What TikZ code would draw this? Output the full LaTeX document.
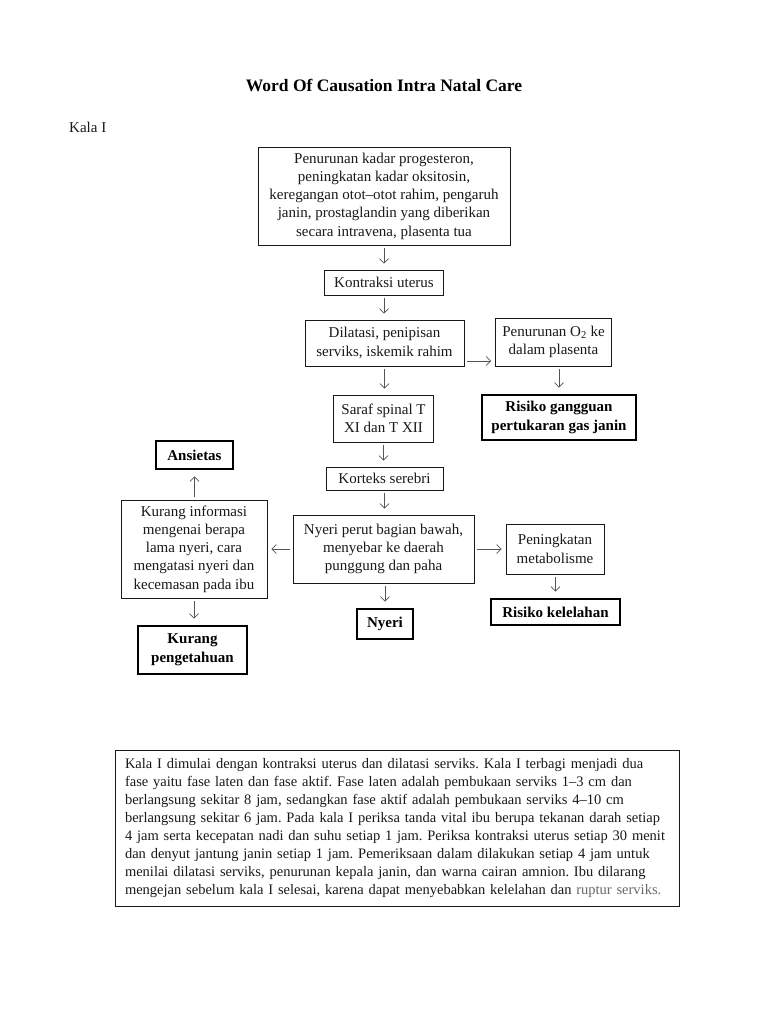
\documentclass[tikz,border=0pt]{standalone}
\usepackage{fontspec}
\setmainfont{Liberation Serif}
\usetikzlibrary{arrows.meta,calc}
\definecolor{arrowgray}{RGB}{85,85,85}
\definecolor{linkgray}{RGB}{105,105,105}
\definecolor{inkcol}{RGB}{25,25,25}
\frenchspacing
\tikzset{
  plainbox/.style={draw=inkcol, line width=0.8pt, inner sep=0pt, align=center, text=inkcol,
    font=\fontsize{15}{18.3}\selectfont},
  keybox/.style={draw=black, line width=2.6pt, inner sep=0pt, align=center, text=black,
    font=\fontsize{15}{19}\selectfont\bfseries},
  arr/.style={draw=arrowgray, line width=0.7pt, -{Straight Barb[length=4.5pt,width=9pt,line width=0.7pt]},
    shorten <=2.5pt, shorten >=6pt},
}
\begin{document}
\begin{tikzpicture}[x=1pt,y=-1pt]
\useasboundingbox[fill=white] (0,0) rectangle (768,1024);

\node[font=\fontsize{17.5}{20}\selectfont\bfseries, text=black] (title) at (384,85) {Word Of Causation Intra Natal Care};
\node[font=\fontsize{15}{18}\selectfont, text=inkcol, anchor=west, inner sep=0pt] (kala) at (69,127) {Kala I};

\node[plainbox, minimum width=252pt, minimum height=98pt] (b1) at (384,196)
  {Penurunan kadar progesteron,\\ peningkatan kadar oksitosin,\\ keregangan otot–otot rahim, pengaruh\\ janin, prostaglandin yang diberikan\\ secara intravena, plasenta tua};
\node[plainbox, minimum width=119pt, minimum height=25pt] (kon) at (384,282.5) {Kontraksi uterus};
\node[plainbox, minimum width=159pt, minimum height=46pt] (dil) at (384.5,343) {Dilatasi, penipisan\\ serviks, iskemik rahim};
\node[plainbox, minimum width=116pt, minimum height=48pt] (pen) at (553.5,342) {Penurunan O\textsubscript{2} ke\\ dalam plasenta};
\node[keybox, minimum width=154pt, minimum height=45pt] (rg) at (559,417.5) {Risiko gangguan\\ pertukaran gas janin};
\node[plainbox, minimum width=100pt, minimum height=47pt] (sar) at (383.5,418.5) {Saraf spinal T\\ XI dan T XII};
\node[plainbox, minimum width=117pt, minimum height=23pt] (kor) at (384.5,478.5) {Korteks serebri};
\node[plainbox, minimum width=181pt, minimum height=68pt] (np) at (383.5,549) {Nyeri perut bagian bawah,\\ menyebar ke daerah\\ punggung dan paha};
\node[plainbox, minimum width=98pt, minimum height=50pt] (pm) at (555,549) {Peningkatan\\ metabolisme};
\node[keybox, minimum width=129pt, minimum height=26pt] (rk) at (555.5,612) {Risiko kelelahan};
\node[keybox, minimum width=56pt, minimum height=30pt] (ny) at (385,624) {Nyeri};
\node[plainbox, minimum width=146pt, minimum height=98pt] (ki) at (194,549) {Kurang informasi\\ mengenai berapa\\ lama nyeri, cara\\ mengatasi nyeri dan\\ kecemasan pada ibu};
\node[keybox, minimum width=77pt, minimum height=28pt] (an) at (194.5,455) {Ansietas};
\node[keybox, minimum width=109pt, minimum height=48pt] (kp) at (192.5,650) {Kurang\\ pengetahuan};

\draw[arr] (b1.south) -- (kon.north);
\draw[arr] (kon.south) -- (kon.south |- dil.north);
\draw[arr] (dil.south) -- (dil.south |- sar.north);
\coordinate (d1) at ([yshift=-18pt]dil.east);
\draw[arr, shorten >=4pt] (d1) -- (d1 -| pen.west);
\draw[arr] (rg.north |- pen.south) -- (rg.north);
\draw[arr] (sar.south) -- (sar.south |- kor.north);
\draw[arr] (kor.south) -- (kor.south |- np.north);
\draw[arr, shorten >=4pt] (np.east) -- (pm.west);
\draw[arr] (pm.south -| rk.north) -- (rk.north);
\draw[arr] (np.south -| ny.north) -- (ny.north);
\draw[arr, shorten >=4pt] (np.west) -- (np.west -| ki.east);
\draw[arr] (ki.north -| an.south) -- (an.south);
\draw[arr] (ki.south) -- (ki.south |- kp.north);

\node[draw=inkcol, line width=0.8pt, minimum width=564pt, minimum height=156pt, inner sep=0pt] (tb) at (397,828) {};
\node[text width=545pt, align=left, inner sep=0pt, text=inkcol, font=\fontsize{14.5}{17.9}\selectfont] (para) at (397.5,828) {%
\makebox[545pt][s]{Kala I dimulai dengan kontraksi uterus dan dilatasi serviks. Kala I terbagi menjadi dua}\\
\makebox[545pt][s]{fase yaitu fase laten dan fase aktif. Fase laten adalah pembukaan serviks 1–3 cm dan}\\
\makebox[545pt][s]{berlangsung sekitar 8 jam, sedangkan fase aktif adalah pembukaan serviks 4–10 cm}\\
\makebox[545pt][s]{berlangsung sekitar 6 jam. Pada kala I periksa tanda vital ibu berupa tekanan darah setiap}\\
\makebox[545pt][s]{4 jam serta kecepatan nadi dan suhu setiap 1 jam. Periksa kontraksi uterus setiap 30 menit}\\
\makebox[545pt][s]{dan denyut jantung janin setiap 1 jam. Pemeriksaan dalam dilakukan setiap 4 jam untuk}\\
\makebox[545pt][s]{menilai dilatasi serviks, penurunan kepala janin, dan warna cairan amnion. Ibu dilarang}\\
\makebox[545pt][l]{mengejan sebelum kala I selesai, karena dapat menyebabkan kelelahan dan {\color{linkgray}ruptur serviks.}}};
\end{tikzpicture}
\end{document}
